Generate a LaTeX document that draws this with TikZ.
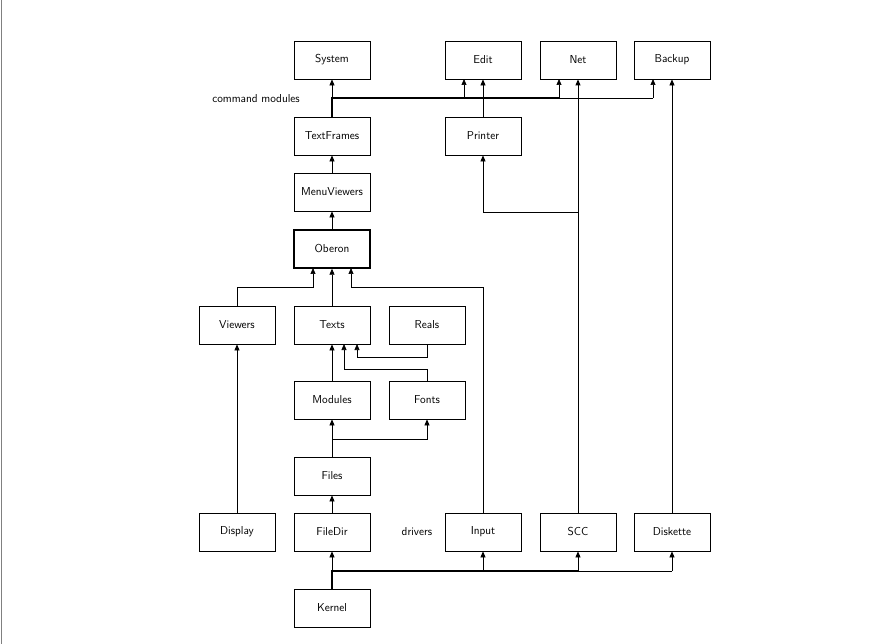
\documentclass[tikz,border=0pt]{standalone}
\usetikzlibrary{arrows.meta}
\begin{document}
\begin{tikzpicture}[x=1pt,y=-1pt,
  box/.style={draw,line width=0.8pt,minimum width=76pt,minimum height=38pt,font=\sffamily\fontsize{11.5}{13}\selectfont,inner sep=0},
  lbl/.style={font=\sffamily\fontsize{11.5}{13}\selectfont},
  ar/.style={-{Triangle[length=6pt,width=5pt]},line width=0.7pt},
  tk/.style={line width=1.5pt}]
\path[use as bounding box] (0,0) rectangle (889,644);
\draw[gray,line width=0.6pt] (1,0) -- (1,644);
\node[box] (sys) at (332,60) {System};
\node[box] (edit) at (483,60) {Edit};
\node[box] (net) at (578,60) {Net};
\node[box] (bak) at (672,60) {Backup};
\node[box] (tf) at (332,136) {TextFrames};
\node[box] (pr) at (483,136) {Printer};
\node[box] (mv) at (332,192) {MenuViewers};
\node[box,line width=1.4pt] (ob) at (332,249) {Oberon};
\node[box] (vw) at (237,325) {Viewers};
\node[box] (tx) at (332,325) {Texts};
\node[box] (re) at (427,325) {Reals};
\node[box] (mo) at (332,400) {Modules};
\node[box] (fo) at (427,400) {Fonts};
\node[box] (fi) at (332,476) {Files};
\node[box] (di) at (237,532) {Display};
\node[box] (fd) at (332,532) {FileDir};
\node[box] (in) at (483,532) {Input};
\node[box] (scc) at (578,532) {SCC};
\node[box] (dk) at (672,532) {Diskette};
\node[box] (ke) at (332,608) {Kernel};
\node[lbl] (cm) at (256,99) {command modules};
\node[lbl] (dr) at (417,532) {drivers};
\coordinate (b1) at (332,98);
\coordinate (b2) at (332,571);
% command bus
\draw[tk] (tf.north) -- (b1) -- (559,98);
\draw[ar] (b1) -- (sys.south);
\draw[line width=0.7pt] (559,98) -- (653,98);
\draw[ar] (464,98) -- (464,79);
\draw[ar] (559,98) -- (559,79);
\draw[ar] (653,98) -- (653,79);
\draw[ar] (pr.north) -- (edit.south);
\draw[ar] (mv.north) -- (tf.south);
\draw[ar] (ob.north) -- (mv.south);
% into Oberon
\draw[ar] (vw.north) |- (313,287) -- (313,268);
\draw[ar] (tx.north) -- (ob.south);
\draw[ar] (in.north) |- (351,287) -- (351,268);
% into Texts
\draw[ar] (mo.north) -- (tx.south);
\draw[ar] (re.south) |- (357,357) -- (357,344);
\draw[ar] (fo.north) |- (344,369) -- (344,344);
\draw[ar] (fi.north) -- (mo.south);
\draw[ar] (332,439) -| (fo.south);
\draw[ar] (fd.north) -- (fi.south);
\draw[ar] (di.north) -- (vw.south);
% drivers bus
\draw[tk] (ke.north) -- (b2) -- (578,571);
\draw[line width=0.7pt] (578,571) -- (672,571);
\draw[ar] (b2) -- (fd.south);
\draw[ar] (483,571) -- (in.south);
\draw[ar] (578,571) -- (scc.south);
\draw[ar] (672,571) -- (dk.south);
\draw[ar,line width=0.9pt] (scc.north) -- (net.south);
\draw[ar] (578,212) -| (pr.south);
\draw[ar] (dk.north) -- (bak.south);
\end{tikzpicture}
\end{document}
